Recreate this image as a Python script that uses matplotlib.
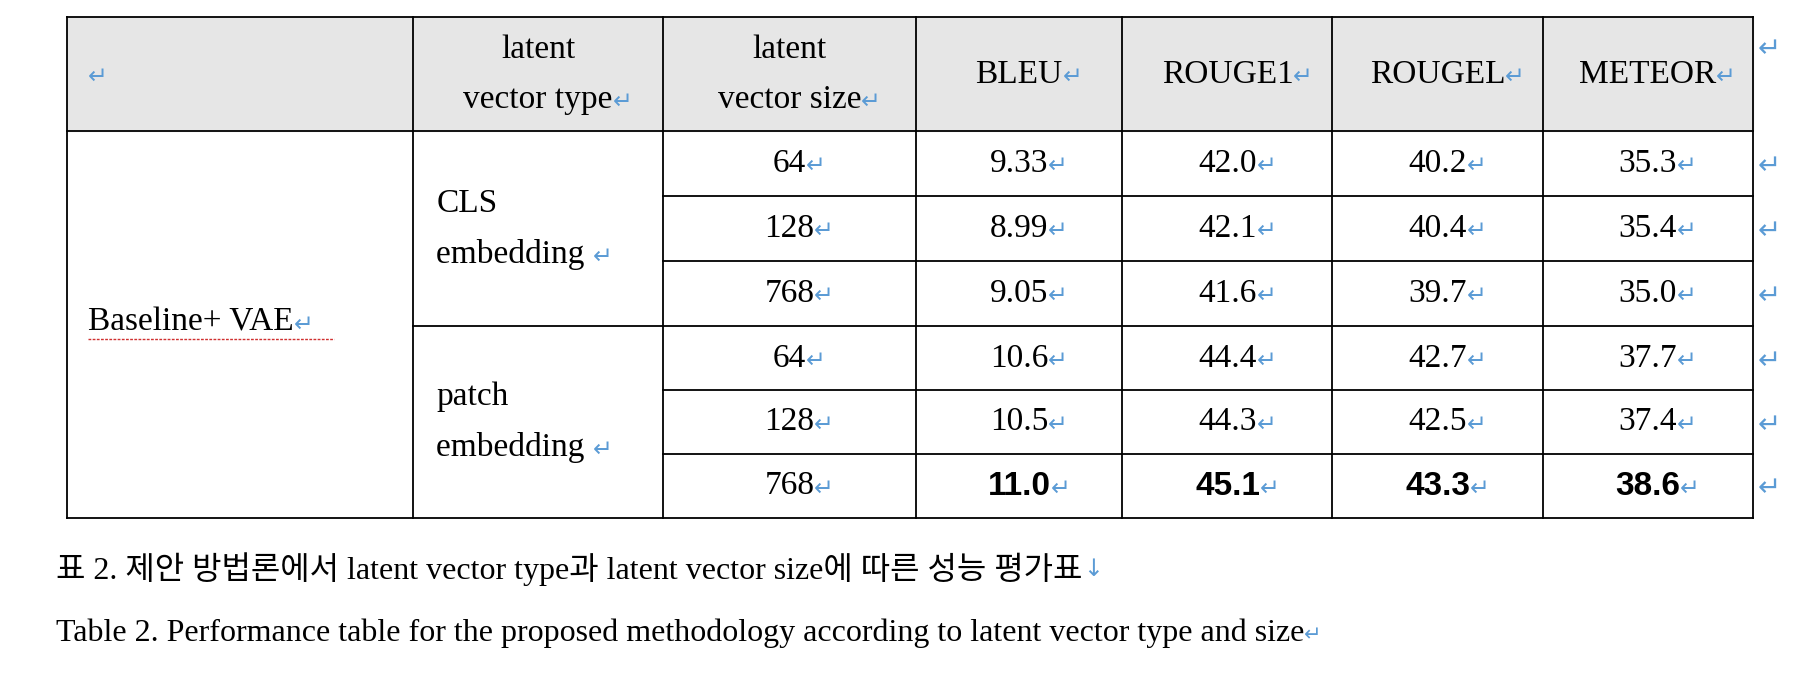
import matplotlib
matplotlib.use("Agg")
import matplotlib.pyplot as plt
from matplotlib.patches import Rectangle

# table content
headers = ["", "latent\nvector type", "latent\nvector size", "BLEU", "ROUGE1", "ROUGEL", "METEOR"]
model_name = "Baseline+ VAE"
vec_types = ["CLS\nembedding", "patch\nembedding"]
vec_sizes = ["64", "128", "768", "64", "128", "768"]
bleu = ["9.33", "8.99", "9.05", "10.6", "10.5", "11.0"]
rouge1 = ["42.0", "42.1", "41.6", "44.4", "44.3", "45.1"]
rougel = ["40.2", "40.4", "39.7", "42.7", "42.5", "43.3"]
meteor = ["35.3", "35.4", "35.0", "37.7", "37.4", "38.6"]
caption_ko = "표 2. 제안 방법론에서 latent vector type과 latent vector size에 따른 성능 평가표"
caption_en = "Table 2. Performance table for the proposed methodology according to latent vector type and size"

W, H = 1568, 594
xs = [58, 356, 571, 789, 967, 1148, 1329, 1510]
ys = [15, 113, 169, 225, 281, 336, 391, 446]
BLUE = "#5b9bd5"
ARROW = "\u21b5"
SERIF = ["Liberation Serif", "Noto Sans CJK KR", "DejaVu Sans"]
FS = 24
AFS = 17

fig = plt.figure(figsize=(18.2, 6.9), dpi=100)
ax = fig.add_axes([0, 0, 1, 1])
ax.set_xlim(0, W); ax.set_ylim(H, 0); ax.axis("off")

ax.add_patch(Rectangle((xs[0], ys[0]), xs[-1] - xs[0], ys[1] - ys[0], color="#e6e6e6", zorder=0))
lw = 1.3
for y in ys:
    x0 = xs[0] if y in (ys[0], ys[1], ys[-1]) else (xs[1] if y == ys[4] else xs[2])
    ax.plot([x0, xs[-1]], [y, y], color="black", lw=lw)
for x in xs:
    ax.plot([x, x], [ys[0], ys[-1]], color="black", lw=lw)


def txt(x, y, s, ha="center", bold=False, arrow=True, fs=FS):
    fam = ["Liberation Sans", "DejaVu Sans"] if bold else SERIF
    t = ax.text(x, y, s, ha=ha, va="center", fontsize=fs, family=fam,
                fontweight="bold" if bold else "normal")
    if arrow:
        fig.canvas.draw()
        bb = t.get_window_extent()
        xr = ax.transData.inverted().transform((bb.x1, bb.y0))[0]
        ax.text(xr, y + 2, ARROW, ha="left", va="center", fontsize=AFS,
                color=BLUE, family="DejaVu Sans")
    return t


# header
hy = (ys[0] + ys[1]) / 2
ax.text(84, hy + 2, ARROW, ha="center", va="center", fontsize=AFS, color=BLUE)
for i in range(1, 7):
    cx = (xs[i] + xs[i + 1]) / 2
    lines = headers[i].split("\n")
    if len(lines) == 2:
        txt(cx, hy - 21, lines[0], arrow=False)
        txt(cx, hy + 22, lines[1])
    else:
        txt(cx, hy, lines[0])
ax.text(1524, hy - 22, ARROW, ha="center", va="center", fontsize=AFS + 3, color=BLUE)

# body
txt(76, (ys[1] + ys[-1]) / 2 - 2, model_name, ha="left")
ax.plot([76, 288], [292, 292], color="#d03030", lw=1.0, ls=(0, (2, 1)))
for k, vt in enumerate(vec_types):
    cy = (ys[1 + 3 * k] + ys[4 + 3 * k]) / 2
    l1, l2 = vt.split("\n")
    ax.text(376, cy - 22, l1, ha="left", va="center", fontsize=FS, family=SERIF)
    txt(376, cy + 22, l2 + " ", ha="left")

cols = [vec_sizes, bleu, rouge1, rougel, meteor]
for r in range(6):
    cy = (ys[r + 1] + ys[r + 2]) / 2
    for c, col in enumerate(cols):
        cx = (xs[c + 2] + xs[c + 3]) / 2
        txt(cx, cy, col[r], bold=(r == 5 and c > 0))
    ax.text(1524, cy + 2, ARROW, ha="center", va="center", fontsize=AFS + 3, color=BLUE)

# captions
t = ax.text(48, 490, caption_ko, ha="left", va="center", fontsize=23, family=SERIF)
fig.canvas.draw()
bb = t.get_window_extent()
xr = ax.transData.inverted().transform((bb.x1, bb.y0))[0]
ax.text(xr + 1, 490, "\u2193", ha="left", va="center", fontsize=17, color=BLUE)
t = ax.text(48, 545, caption_en, ha="left", va="center", fontsize=23, family=SERIF)
fig.canvas.draw()
bb = t.get_window_extent()
xr = ax.transData.inverted().transform((bb.x1, bb.y0))[0]
ax.text(xr, 547, ARROW, ha="left", va="center", fontsize=15, color=BLUE)

fig.savefig("out.png", dpi=100)
